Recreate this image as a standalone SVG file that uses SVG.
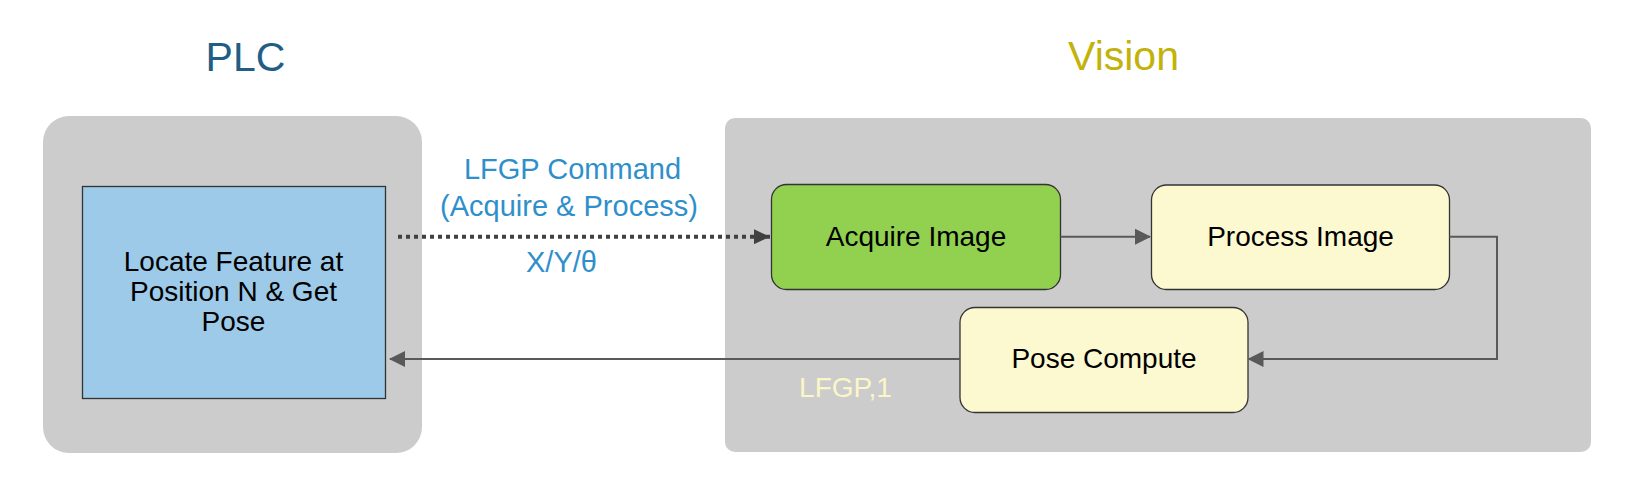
<svg xmlns="http://www.w3.org/2000/svg" width="1636" height="493" viewBox="0 0 1636 493">
<style>
text { font-family: "Liberation Sans", Arial, sans-serif; }
.title { font-size: 41px; text-anchor: middle; }
.lbl { font-size: 28px; text-anchor: middle; fill: #000; }
.blue { font-size: 29px; text-anchor: middle; fill: #2F8FCB; }
.panel { fill: #CCCCCC; }
.node { stroke: #333333; stroke-width: 1.3; }
.conn { fill: none; stroke: #595959; stroke-width: 2; }
</style>
<defs>
<marker id="arrGray" markerWidth="16" markerHeight="16" refX="15" refY="8" orient="auto" markerUnits="userSpaceOnUse">
<path d="M0,0 L16,8 L0,16 Z" fill="#595959"/>
</marker>
<marker id="arrDark" markerWidth="16" markerHeight="15" refX="16" refY="7.5" orient="auto" markerUnits="userSpaceOnUse">
<path d="M0,0 L16,7.5 L0,15 Z" fill="#404040"/>
</marker>
</defs>
<rect width="1636" height="493" fill="#FFFFFF"/>
<text class="title" x="245.5" y="70.5" fill="#215E86">PLC</text>
<text class="title" x="1123.5" y="70" fill="#C2B20A">Vision</text>
<g id="plc-panel">
<rect class="panel" x="43" y="116" width="379" height="337" rx="26" ry="26"/>
</g>
<g id="vision-panel">
<rect class="panel" x="725" y="118" width="866" height="334" rx="10" ry="10"/>
</g>
<g id="locate">
<rect class="node" x="82.5" y="186.5" width="303" height="212" fill="#9DCAE8"/>
<text class="lbl" x="233.5" y="270.5">Locate Feature at</text>
<text class="lbl" x="233.5" y="300.5">Position N &amp; Get</text>
<text class="lbl" x="233.5" y="330.5">Pose</text>
</g>
<g id="acquire">
<rect class="node" x="771.5" y="184.5" width="289" height="105" rx="15" ry="15" fill="#92D050"/>
<text class="lbl" x="916" y="246">Acquire Image</text>
</g>
<g id="process">
<rect class="node" x="1151.5" y="185" width="298" height="104.5" rx="15" ry="15" fill="#FCF8D0"/>
<text class="lbl" x="1300.5" y="246">Process Image</text>
</g>
<g id="pose">
<rect class="node" x="960" y="307.5" width="288" height="105" rx="15" ry="15" fill="#FCF8D0"/>
<text class="lbl" x="1104" y="367.5">Pose Compute</text>
</g>
<g id="connectors">
<line x1="398" y1="236.7" x2="770" y2="236.7" stroke="#404040" stroke-width="4" stroke-dasharray="4,4" marker-end="url(#arrDark)"/>
<line class="conn" x1="1060.5" y1="236.7" x2="1150" y2="236.7" marker-end="url(#arrGray)"/>
<polyline class="conn" points="1449.5,236.7 1497,236.7 1497,359 1248.5,359" marker-end="url(#arrGray)"/>
<line class="conn" x1="960" y1="359" x2="390" y2="359" marker-end="url(#arrGray)"/>
<text class="blue" x="572.5" y="178.5">LFGP Command</text>
<text class="blue" x="569" y="215.5">(Acquire &amp; Process)</text>
<text class="blue" x="561.5" y="272">X/Y/θ</text>
<text x="845.5" y="396.5" font-size="28" text-anchor="middle" fill="#FBF5C8">LFGP,1</text>
</g>
</svg>
